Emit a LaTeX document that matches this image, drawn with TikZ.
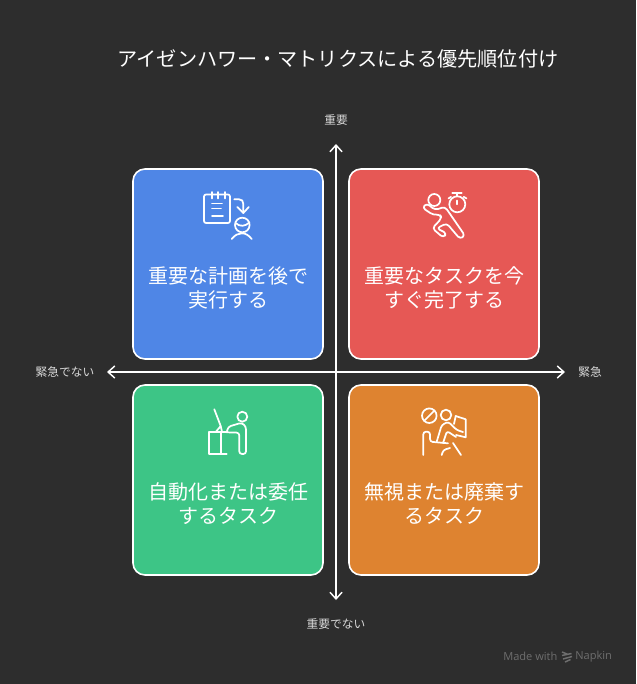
\documentclass[tikz,border=0pt]{standalone}
\usepackage{fontspec}
\setmainfont{Noto Sans CJK JP}
\newfontfamily\brandfont{Open Sans}
\usepackage{tikz}
\usetikzlibrary{arrows.meta,positioning}
\definecolor{canvas}{HTML}{2D2D2D}
\definecolor{planblue}{HTML}{4F86E6}
\definecolor{urgentred}{HTML}{E65855}
\definecolor{delegategreen}{HTML}{3DC586}
\definecolor{dropamber}{HTML}{DE8330}
\definecolor{brandgrey}{HTML}{6E6E6E}
\tikzset{
    %Define standard arrow tip
    >={Straight Barb[length=5pt,width=9pt,line width=1.1pt]},
    %Define style for boxes
    quadrant/.style={
           rectangle,
           rounded corners=9pt,
           draw=white, line width=1.2pt,
           minimum width=142.5pt,
           minimum height=142.5pt,
           outer sep=0pt},
    quadlabel/.style={
           text=white,
           align=center,
           font=\fontsize{15}{18}\selectfont},
    axislabel/.style={
           text=white!85!black,
           font=\fontsize{8.8}{11}\selectfont},
    brand/.style={
           text=brandgrey,
           inner sep=0pt,
           font=\brandfont\fontsize{8.3}{10}\selectfont},
    % Define arrow style
    axis/.style={
           <->,
           white,
           line width=1.1pt},
    icon/.style={
           white,
           line width=1.3pt,
           line cap=round,
           line join=round}
}
\begin{document}
\begin{tikzpicture}[x=.75pt,y=-.75pt]
\fill[canvas] (0,0) rectangle (636,684);
\node[text=white,font=\fontsize{15.1}{18}\selectfont](title) at (338,59){アイゼンハワー・マトリクスによる優先順位付け};
% the four quadrants
\node[quadrant, fill=planblue](plan) at (228,264){};
\node[quadrant, fill=urgentred, right=19.5pt of plan](urgent){};
\node[quadrant, fill=delegategreen, below=19.5pt of plan](delegate){};
\node[quadrant, fill=dropamber, right=19.5pt of delegate](drop){};
\node[quadlabel] (plantext) at ([yshift=-18pt]plan.center){重要な計画を後で\\実行する};
\node[quadlabel] (urgenttext) at ([yshift=-18pt]urgent.center){重要なタスクを今\\すぐ完了する};
\node[quadlabel] (delegatetext) at ([yshift=-18pt]delegate.center){自動化または委任\\するタスク};
\node[quadlabel] (droptext) at ([yshift=-18pt]drop.center){無視または廃棄す\\るタスク};
% axes
\coordinate (high) at (336,144);
\coordinate (low) at (336,600);
\coordinate (calm) at (107,372);
\coordinate (urge) at (565,372);
\draw[axis] (low) -- (high);
\draw[axis] (calm) -- (urge);
\node[axislabel](highlabel) at (336,120){重要};
\node[axislabel](lowlabel) at (336,624){重要でない};
\node[axislabel](calmlabel) at (65,372){緊急でない};
\node[axislabel](urgelabel) at (590,372){緊急};
% notepad and person
\draw[icon,rounded corners=1.5pt] (204,194.5) rectangle (230,223);
\draw[icon] (211.7,192) -- (211.7,198.5) (218.3,192) -- (218.3,198.5) (225,192) -- (225,198.5);
\draw[icon] (212,203.5) -- (222,203.5) (212,208.5) -- (221,208.5) (212,216) -- (223,216);
\draw[icon] (234.3,199.3) -- (239,199.3) .. controls (242,199.3) and (243.3,201) .. (243.3,204) -- (243.3,213);
\draw[icon] (237.3,207) -- (243.3,213) -- (248.8,207);
\draw[icon] (242.3,225) circle (7.3);
\draw[icon] (235.5,223) .. controls (240,227) and (245,226.5) .. (249.5,222.5);
\draw[icon] (231.7,239) .. controls (235,235) and (238,233.3) .. (241.7,233.3) .. controls (245.5,233.3) and (248.5,235) .. (251.7,239);
% runner and stopwatch
\draw[icon] (434.3,200) circle (6);
\draw[icon] (457.3,204.3) circle (8);
\draw[icon] (452.3,193.3) -- (461.7,193.3) (457.3,193.3) -- (457.3,196.3);
\draw[icon] (448.5,198.5) -- (451,196.8) (463.7,196.8) -- (466.5,198.5);
\draw[icon] (457.3,204.3) -- (457.3,200.5);
\draw[icon,rounded corners=2.5pt] (422.3,207.7) -- (426.7,203.3) -- (435,210) -- (445,206.7) -- (465,235.7) -- (460,239) -- (446.7,223.3) -- (436.7,228.3) -- (446.7,233.3) -- (443.3,237.7) -- (432.3,228.3) -- (441.7,218.3) -- (440,214.3) -- (433.3,215) -- cycle;
% desk and person
\draw[icon] (242.3,416.7) circle (5);
\draw[icon] (226.7,432.3) -- (209,432.3) -- (209,454) -- (226.7,454);
\draw[icon] (220.7,432.3) -- (220.7,454);
\draw[icon] (214.3,409.3) -- (220.7,426) -- (216,431.7) (220.7,426) -- (222,431.7);
\draw[icon,rounded corners=2pt] (226.7,432.3) -- (228.3,426.7) -- (241.7,422.7) -- (246,426.7) -- (246,454) -- (239.3,454) -- (239.3,432.7) -- (226.7,432.3);
% person with paper and no sign
\draw[icon] (429.3,415.7) circle (7.3);
\draw[icon] (424.2,420.8) -- (434.4,410.6);
\draw[icon] (446,415) circle (5.3);
\draw[icon] (455.7,416) -- (465.7,419.3) -- (465.7,437.3) -- (456,435);
\draw[icon] (455.7,416) -- (454,424);
\draw[icon,rounded corners=2pt] (423.3,455) -- (423.3,431.7) -- (430,431.7) -- (430,441.7) -- (448,443.3);
\draw[icon,rounded corners=2pt] (436.7,441.7) -- (441.7,425) -- (448.3,421.7) -- (456.7,430) -- (463,432);
\draw[icon,rounded corners=2pt] (456,437) -- (447,431) -- (443,443);
\draw[icon] (453,443) -- (461,455);
\draw[icon,rounded corners=2pt] (441.7,455) -- (443.3,450) -- (450,448);
% brand line
\node[brand,anchor=west](madewith) at (503,656.5){Made with};
\node[brand,anchor=west](napkin) at (575,656.5){Napkin};
\draw[brandgrey,line width=1.1pt] (562,652) -- (567,654) (562,655.5) -- (571.5,653.5) (563,659) -- (572,656.5) (565,662) -- (570.5,659.5);
\end{tikzpicture}
\end{document}
